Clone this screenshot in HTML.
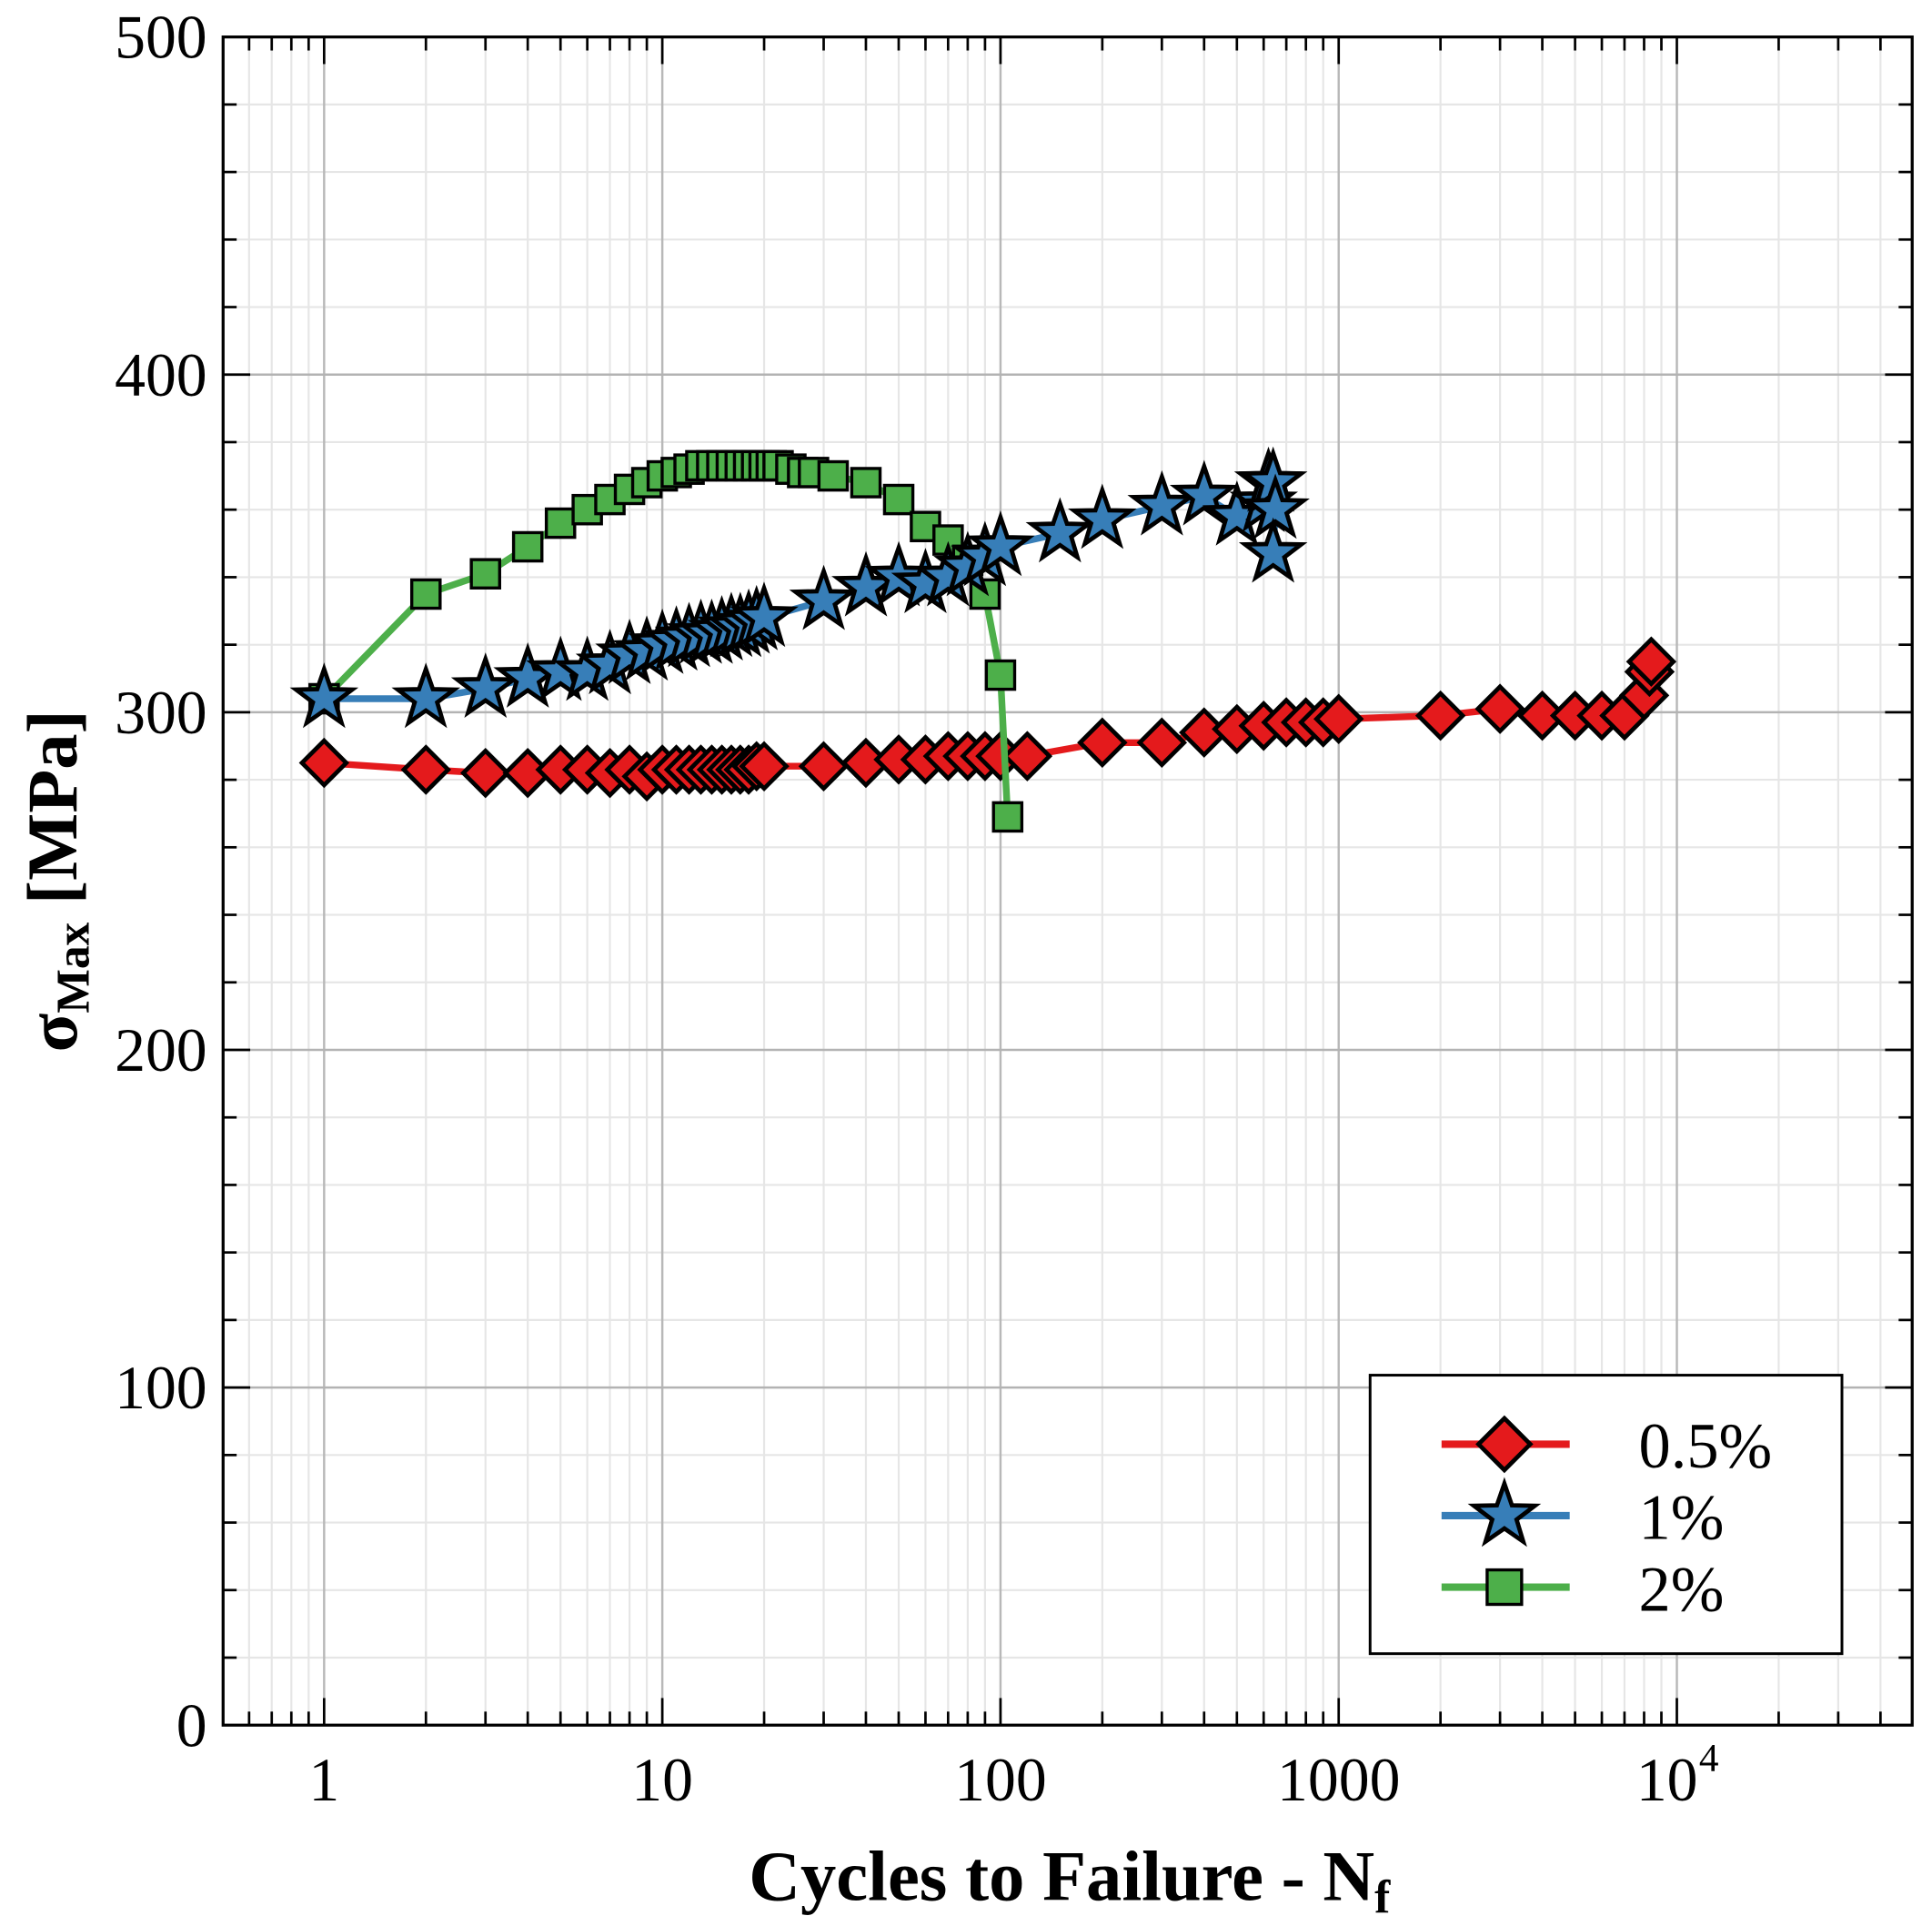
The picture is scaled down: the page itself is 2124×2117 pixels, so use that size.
<!DOCTYPE html>
<html><head><meta charset="utf-8"><style>
html,body{margin:0;padding:0;background:#fff;}
svg{display:block;}
text{font-family:"Liberation Serif",serif;fill:#000;}
</style></head><body>
<svg id="s" width="2124" height="2117" viewBox="0 0 1568 1563" xmlns="http://www.w3.org/2000/svg">
<rect width="1568" height="1563" fill="#fff"/>
<g id="grid"></g>
<g id="series"></g>
<g id="axes"></g>
<g id="legend">
<rect x="1112" y="1116" width="383" height="226" fill="#fff" stroke="#000" stroke-width="2.2"/>
</g>
<text x="868" y="1542" font-size="58" font-weight="bold" text-anchor="middle">Cycles to Failure - N<tspan font-size="38" dy="10">f</tspan></text>
<text transform="translate(62,715) rotate(-90)" font-size="58" font-weight="bold" text-anchor="middle">σ<tspan font-size="38" dy="10">Max</tspan><tspan dy="-10"> [MPa]</tspan></text>
</svg>
<script>
const NS="http://www.w3.org/2000/svg";
const L=181,R=1552,T=30,B=1400;
const X=n=>263+274.5*Math.log10(n), Y=v=>1400-2.74*v;
function el(p,tag,a){const e=document.createElementNS(NS,tag);for(const k in a)e.setAttribute(k,a[k]);p.appendChild(e);return e;}
const g=document.getElementById('grid'),ax=document.getElementById('axes'),se=document.getElementById('series'),lg=document.getElementById('legend');
for(let d=-1;d<=4;d++)for(let m=2;m<=9;m++){const x=X(m*10**d);if(x>L&&x<R){el(g,'line',{x1:x,x2:x,y1:T,y2:B,stroke:'#e6e6e6','stroke-width':1.6});
el(ax,'line',{x1:x,x2:x,y1:B,y2:B-11,stroke:'#000','stroke-width':2});el(ax,'line',{x1:x,x2:x,y1:T,y2:T+11,stroke:'#000','stroke-width':2});}}
for(let v=20;v<500;v+=20){if(v%100==0)continue;const y=Y(v);el(g,'line',{x1:L,x2:R,y1:y,y2:y,stroke:'#e6e6e6','stroke-width':1.6});
el(ax,'line',{x1:L,x2:L+11,y1:y,y2:y,stroke:'#000','stroke-width':2});el(ax,'line',{x1:R,x2:R-11,y1:y,y2:y,stroke:'#000','stroke-width':2});}
for(let d=0;d<=4;d++){const x=X(10**d);el(g,'line',{x1:x,x2:x,y1:T,y2:B,stroke:'#b8b8b8','stroke-width':1.8});
el(ax,'line',{x1:x,x2:x,y1:B,y2:B-22,stroke:'#000','stroke-width':2});el(ax,'line',{x1:x,x2:x,y1:T,y2:T+22,stroke:'#000','stroke-width':2});}
for(let v=100;v<500;v+=100){const y=Y(v);el(g,'line',{x1:L,x2:R,y1:y,y2:y,stroke:'#b3b3b3','stroke-width':1.8});
el(ax,'line',{x1:L,x2:L+22,y1:y,y2:y,stroke:'#000','stroke-width':2});el(ax,'line',{x1:R,x2:R-22,y1:y,y2:y,stroke:'#000','stroke-width':2});}
el(ax,'rect',{x:L,y:T,width:R-L,height:B-T,fill:'none',stroke:'#000','stroke-width':2.4});
for(let v=0;v<=500;v+=100){const t=el(ax,'text',{x:168,y:Y(v)+17,'font-size':50,'text-anchor':'end'});t.textContent=v;}
['1','10','100','1000'].forEach((s,i)=>{const t=el(ax,'text',{x:X(10**i),y:1461,'font-size':50,'text-anchor':'middle'});t.textContent=s;});
{const t=el(ax,'text',{x:X(1e4)-8,y:1461,'font-size':50,'text-anchor':'middle'});t.textContent='10';const u=el(ax,'text',{x:X(1e4)+18,y:1437,'font-size':32});u.textContent='4';}
function diamond(p,x,y,c,s=18){el(p,'polygon',{points:`${x},${y-s} ${x+s},${y} ${x},${y+s} ${x-s},${y}`,fill:c,stroke:'#000','stroke-width':3.5});}
function star(p,x,y,c,r=24){let pts=[];for(let i=0;i<10;i++){const rr=i%2?r*0.4:r,a=-Math.PI/2+i*Math.PI/5;pts.push((x+rr*Math.cos(a)).toFixed(1)+','+(y+rr*Math.sin(a)).toFixed(1));}
el(p,'polygon',{points:pts.join(' '),fill:c,stroke:'#000','stroke-width':3.5,'stroke-linejoin':'miter'});}
function sq(p,x,y,c,s=23){el(p,'rect',{x:x-s/2,y:y-s/2,width:s,height:s,fill:c,stroke:'#000','stroke-width':2.5});}
const red=[[1,285],[2,283],[3,282],[4,282],[5,283],[6,283],[7,282],[8,283],[9,281],[10,283],[11,283],[12,283],[13,283],[14,283],[15,283],[16,283],[17,283],[18,283],[19,284],[20,284],[30,284],[40,285],[50,286],[60,286],[70,287],[80,287],[90,287],[100,287],[120,287],[200,291],[300,291],[400,294],[500,295],[600,296],[700,297],[800,297],[900,297],[1000,298],[2000,299],[3000,301],[4000,299],[5000,299],[6000,299],[7000,299],[8000,305],[8300,312],[8400,315]];
const blue=[[1,304],[2,304],[3,307],[4,310],[5,312],[6,312],[7,314],[8,317],[9,318],[10,320],[11,321],[12,322],[13,323],[14,323],[15,324],[16,325],[17,325],[18,326],[19,327],[20,328],[30,333],[40,337],[50,340],[60,338],[70,340],[80,343],[90,346],[100,349],[150,353],[200,357],[300,361],[400,364],[500,358],[600,362],[620,368],[640,368],[650,360],[640,347]];
const green=[[1,304],[2,335],[3,341],[4,349],[5,356],[6,360],[7,363],[8,366],[9,368],[10,370],[11,371],[12,372],[13,373],[14,373],[15,373],[16,373],[17,373],[18,373],[19,373],[20,373],[21,373],[22,373],[24,372],[26,371],[28,371],[32,370],[40,368],[50,363],[60,355],[70,351],[80,345],[90,335],[100,311],[105,269]];
function series(d,c,f){el(se,'polyline',{points:d.map(p=>X(p[0]).toFixed(1)+','+Y(p[1]).toFixed(1)).join(' '),fill:'none',stroke:c,'stroke-width':5.5,'stroke-linejoin':'round'});
d.forEach(p=>f(se,X(p[0]),Y(p[1]),c));}
series(red,'#e41a1c',diamond);series(green,'#4daf4a',sq);series(blue,'#377eb8',star);
const items=[['#e41a1c',diamond,'0.5%',1172],['#377eb8',star,'1%',1230],['#4daf4a',sq,'2%',1288]];
items.forEach(([c,f,s,y])=>{el(lg,'line',{x1:1170,x2:1274,y1:y,y2:y,stroke:c,'stroke-width':6});f(lg,1221,y,c,f===sq?28:(f===star?26:21));
const t=el(lg,'text',{x:1330,y:y+19,'font-size':52});t.textContent=s;});
</script>
</body></html>
